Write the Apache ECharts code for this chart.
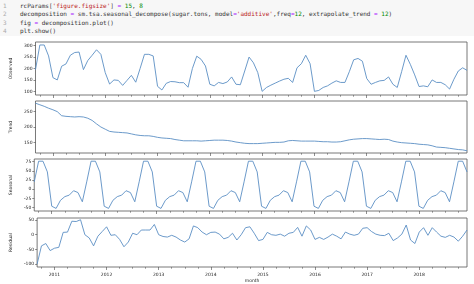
<!DOCTYPE html>
<html>
<head>
<meta charset="utf-8">
<script src="https://cdn.jsdelivr.net/npm/echarts@6/dist/echarts.min.js"></script>
<style>
html, body { margin: 0; padding: 0; background: #fff; }
#wrap { position: relative; width: 474px; height: 284px; overflow: hidden; }
#main { position: absolute; left: 0; top: 0; width: 474px; height: 284px; }
#code { position: absolute; left: 0; top: 0; width: 474px; height: 36px; background: #f7f7f7; z-index: 2;
        font-family: "DejaVu Sans Mono", monospace; font-size: 6px; color: #333; }
#code .ln { position: absolute; left: 0; height: 8px; line-height: 8px; white-space: pre; }
#code .n { position: absolute; left: 3px; color: #aaa; }
#code .c { position: absolute; left: 20px; }
.s { color: #ba2121; }
.m { color: #080; }
.o { color: #aa22ff; }
</style>
</head>
<body>
<div id="wrap">
  <div id="code">
    <div class="ln" style="top:2px"><span class="n">1</span><span class="c">rcParams[<span class="s">'figure.figsize'</span>] <span class="o">=</span> <span class="m">15</span>, <span class="m">8</span></span></div>
    <div class="ln" style="top:10.3px"><span class="n">2</span><span class="c">decomposition <span class="o">=</span> sm.tsa.seasonal_decompose(sugar.tons, model<span class="o">=</span><span class="s">'additive'</span>,freq<span class="o">=</span><span class="m">12</span>, extrapolate_trend <span class="o">=</span> <span class="m">12</span>)</span></div>
    <div class="ln" style="top:18.6px"><span class="n">3</span><span class="c">fig <span class="o">=</span> decomposition.plot()</span></div>
    <div class="ln" style="top:27px"><span class="n">4</span><span class="c">plt.show()</span></div>
  </div>
  <div id="main"></div>
</div>
<script>
// monthly values, Sep 2010 .. Dec 2018
var observed = [
  195, 303, 303, 255, 160, 150, 210, 220, 258, 270,
  272, 195, 235, 258, 282, 262, 182, 132, 150, 148,
  126, 148, 170, 140, 200, 262, 262, 255, 122, 106,
  135, 143, 142, 138, 138, 118, 200, 254, 240, 211,
  131, 124, 139, 134, 141, 163, 131, 129, 189, 250,
  225, 182, 100, 117, 127, 136, 145, 153, 157, 139,
  203, 221, 258, 221, 100, 104, 117, 124, 136, 146,
  139, 139, 186, 238, 244, 232, 156, 131, 139, 146,
  148, 163, 131, 117, 186, 258, 218, 172, 121, 124,
  120, 150, 139, 139, 129, 110, 153, 189, 203, 192
];
var trend = [
  276, 271, 266, 260, 255, 249, 236, 234, 233, 232,
  233, 232, 228, 221, 210, 200, 193, 186, 184, 183,
  182, 181, 178, 175, 173, 172, 172, 170, 167, 165,
  164, 163, 160, 158, 156, 156, 156, 156, 155, 156,
  157, 158, 158, 158, 157, 155, 152, 150, 148, 147,
  147, 147, 148, 149, 150, 151, 151, 152, 156, 157,
  156, 155, 155, 155, 155, 154, 153, 153, 152, 152,
  153, 156, 159, 161, 162, 163, 163, 162, 161, 160,
  161, 160, 155, 152, 150, 149, 148, 147, 145, 144,
  143, 140, 136, 135, 134, 132, 130, 128, 127, 124
];
var seasonal = [
                                        20, 76, 76, 47,
  -46, -52, -30, -20, -16, -4, -9, -34, 20, 76, 76, 47,
  -46, -52, -30, -20, -16, -4, -9, -34, 20, 76, 76, 47,
  -46, -52, -30, -20, -16, -4, -9, -34, 20, 76, 76, 47,
  -46, -52, -30, -20, -16, -4, -9, -34, 20, 76, 76, 47,
  -46, -52, -30, -20, -16, -4, -9, -34, 20, 76, 76, 47,
  -46, -52, -30, -20, -16, -4, -9, -34, 20, 76, 76, 47,
  -46, -52, -30, -20, -16, -4, -9, -34, 20, 76, 76, 47,
  -46, -52, -30, -20, -16, -4, -9, -34, 20, 76, 76, 47
];
var residual = [
  -100, -38, -30, -54, -46, -43, 8, 9, 46, 45,
  51, 0, -11, -38, -5, 11, 27, -2, 0, -16,
  -41, -25, 5, 0, 16, 16, 16, 35, 0, -6,
  -8, -2, -8, -18, -25, -14, 30, 24, 9, 0,
  8, 9, 2, -14, -9, 5, -18, 0, 24, 27,
  5, -20, -16, 8, 0, -2, 2, -5, 5, 8,
  25, -5, 30, 16, -16, -9, -16, -8, 2, -5,
  -14, 9, 2, -2, 2, 22, 24, 11, 2, -2,
  -3, 5, -20, -11, 2, 33, -18, -30, 9, 24,
  -2, 24, 9, -5, -9, -2, -8, -22, -5, 16
];

var obsTicks = [100, 150, 200, 250, 300];
var trendTicks = [150, 200, 250];
var seasTicks = [-50, -25, 0, 25, 50, 75];
var residTicks = [-100, -50, 0, 50];
var yearTicks = ['2011', '2012', '2013', '2014', '2015', '2016', '2017', '2018'];

// month categories
var months = [];
for (var k = 0; k < observed.length; k++) {
    var mm = (8 + k) % 12 + 1;
    var yy = 2010 + Math.floor((8 + k) / 12);
    months.push(yy + '-' + (mm < 10 ? '0' + mm : mm));
}

var lineColor = '#5b8fc4';
var txt = '#222';
var panels = [
    {name: 'Observed', data: observed, min: 84, max: 316, ticks: obsTicks, top: 42, height: 53},
    {name: 'Trend', data: trend, min: 117, max: 283, ticks: trendTicks, top: 101, height: 52},
    {name: 'Seasonal', data: seasonal, min: -59, max: 82, ticks: seasTicks, top: 159, height: 52},
    {name: 'Residual', data: residual, min: -110, max: 57, ticks: residTicks, top: 218, height: 52}
];

var grids = [], xAxes = [], yAxes = [], series = [];
panels.forEach(function(p, i) {
    grids.push({
        left: 27, right: 7, top: p.top, height: p.height,
        show: true, borderColor: '#555', borderWidth: 0.8, backgroundColor: '#fff'
    });
    yAxes.push({
        type: 'value', gridIndex: i, min: p.min, max: p.max, position: 'left',
        name: p.name, nameLocation: 'middle', nameGap: 15, nameRotate: 90,
        nameTextStyle: {fontSize: 4.5, color: txt, fontFamily: 'DejaVu Sans'},
        axisLine: {show: false, onZero: false},
        splitLine: {show: false},
        axisTick: {show: true, length: 2, customValues: p.ticks, lineStyle: {color: '#444', width: 0.6}},
        axisLabel: {customValues: p.ticks, fontSize: 4.5, color: txt, margin: 3, fontFamily: 'DejaVu Sans'}
    });
    series.push({
        type: 'line', xAxisIndex: i, yAxisIndex: i, data: p.data,
        symbol: 'none', lineStyle: {color: lineColor, width: 0.9}, animation: false
    });
});

// quarterly minor ticks
panels.forEach(function(p, i) {
    xAxes.push({
        type: 'category', gridIndex: i, position: 'bottom', data: months, boundaryGap: false,
        axisLine: {show: false, onZero: false}, splitLine: {show: false},
        axisTick: {show: true, length: 1.8, lineStyle: {color: '#444', width: 0.5},
            interval: function(idx, val) { var m = val.slice(5); return m === '04' || m === '07' || m === '10'; }},
        axisLabel: {show: false}
    });
});
// yearly major ticks with labels on the bottom panel
panels.forEach(function(p, i) {
    var last = i === panels.length - 1;
    xAxes.push({
        type: 'category', gridIndex: i, position: 'bottom', data: months, boundaryGap: false,
        name: last ? 'month' : '', nameLocation: 'middle', nameGap: 11,
        nameTextStyle: {fontSize: 4.5, color: txt, fontFamily: 'DejaVu Sans'},
        axisLine: {show: false, onZero: false}, splitLine: {show: false},
        axisTick: {show: true, length: 3, lineStyle: {color: '#444', width: 0.6},
            interval: function(idx, val) { return val.slice(5) === '01'; }},
        axisLabel: {show: last, fontSize: 4.5, color: txt, margin: 5, fontFamily: 'DejaVu Sans',
            interval: function(idx, val) { return yearTicks.indexOf(val.slice(0, 4)) >= 0 && val.slice(5) === '01'; },
            formatter: function(val) { return val.slice(0, 4); }}
    });
});

var chart = echarts.init(document.getElementById('main'));
chart.setOption({
    animation: false,
    backgroundColor: '#fff',
    grid: grids,
    xAxis: xAxes,
    yAxis: yAxes,
    series: series
});
</script>
</body>
</html>
